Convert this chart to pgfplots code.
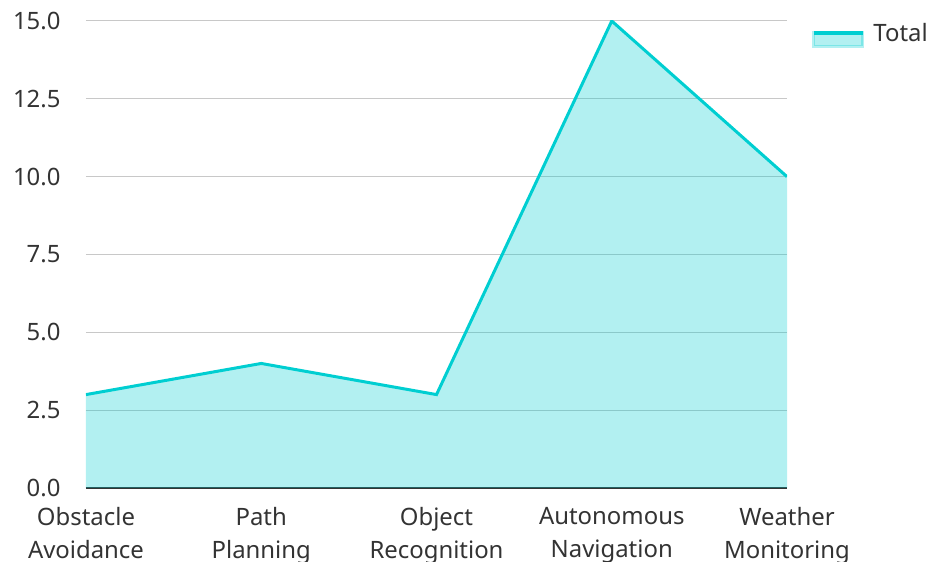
\documentclass[border=0pt]{standalone}
\usepackage{fontspec}
\setmainfont{Noto Sans}
\usepackage{pgfplots}
\pgfplotsset{compat=1.18}

\definecolor{turq}{HTML}{00CED1}
\definecolor{gridgray}{HTML}{C8C8C8}
\definecolor{txt}{HTML}{333333}

\begin{document}
\begin{tikzpicture}[x=1bp,y=1bp]
\clip (-86,-74) rectangle (842,467+21);
\begin{axis}[
    at={(0,0)}, anchor=south west,
    scale only axis,
    width=701bp, height=467bp,
    xmin=0, xmax=4,
    ymin=0, ymax=15,
    xtick={0,1,2,3,4},
    xticklabels={{Obstacle\\Avoidance},{Path\\Planning},{Object\\Recognition},{Autonomous\\Navigation},{Weather\\Monitoring}},
    ytick={0,2.5,5,7.5,10,12.5,15},
    yticklabel style={/pgf/number format/fixed,/pgf/number format/fixed zerofill,/pgf/number format/precision=1, xshift=-22bp},
    /pgf/number format/assume math mode=true,
    font=\fontsize{24}{33}\selectfont,
    tick label style={text=txt},
    xticklabel style={align=center, yshift=-16bp},
    axis x line*=bottom,
    axis y line*=left,
    y axis line style={draw=none},
    x axis line style={-, txt, line width=1.5bp},
    ymajorgrids,
    grid style={gridgray, line width=1bp},
    major tick length=0pt,
    tick style={draw=none},
    legend style={at={(axis description cs:1,1)}, anchor=north west, xshift=22bp, yshift=2bp,
        draw=none, fill=none, font=\fontsize{24}{28}\selectfont, text=txt},
    legend image code/.code={
        \fill[turq, opacity=0.3] (0bp,-13bp) rectangle (49bp,1bp);
        \draw[turq, line width=3.5bp] (0bp,0bp) -- (49bp,0bp);
        \path (56bp,0bp);
    },
]
\addplot[draw=none, fill=turq, fill opacity=0.3, forget plot]
    coordinates {(0,3) (1,4) (2,3) (3,15) (4,10)} \closedcycle;
\addplot[turq, line width=3bp]
    coordinates {(0,3) (1,4) (2,3) (3,15) (4,10)};
\addlegendentry{Total}
\end{axis}
\end{tikzpicture}
\end{document}
